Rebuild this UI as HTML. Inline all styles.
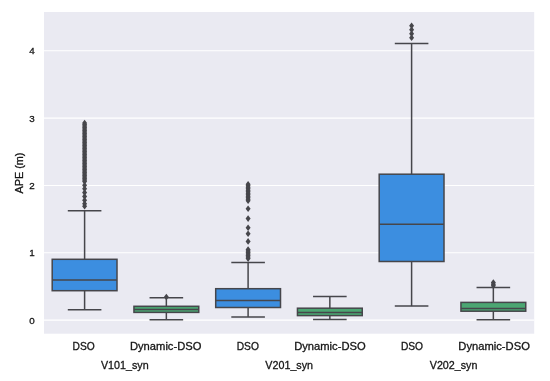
<!DOCTYPE html>
<html><head><meta charset="utf-8"><title>APE boxplot</title>
<style>html,body{margin:0;padding:0;background:#fff;overflow:hidden}svg{display:block}</style></head>
<body>
<svg width="550" height="381" viewBox="0 0 550 381">
<rect x="0" y="0" width="550" height="381" fill="#ffffff"/>
<rect x="44.0" y="12.0" width="490.2" height="321.7" fill="#eaeaf2"/>
<line x1="44.0" x2="534.2" y1="320.10" y2="320.10" stroke="#ffffff" stroke-width="1.05"/>
<line x1="44.0" x2="534.2" y1="252.77" y2="252.77" stroke="#ffffff" stroke-width="1.05"/>
<line x1="44.0" x2="534.2" y1="185.44" y2="185.44" stroke="#ffffff" stroke-width="1.05"/>
<line x1="44.0" x2="534.2" y1="118.11" y2="118.11" stroke="#ffffff" stroke-width="1.05"/>
<line x1="44.0" x2="534.2" y1="50.78" y2="50.78" stroke="#ffffff" stroke-width="1.05"/>
<g stroke="#46464b" stroke-width="1.5" fill="none">
<line x1="84.60" x2="84.60" y1="210.70" y2="259.30"/>
<line x1="84.60" x2="84.60" y1="290.70" y2="309.80"/>
<line x1="67.80" x2="101.40" y1="210.70" y2="210.70"/>
<line x1="67.80" x2="101.40" y1="309.80" y2="309.80"/>
<rect x="52.20" y="259.30" width="64.80" height="31.40" fill="#3c8ee0"/>
<line x1="52.20" x2="117.00" y1="279.90" y2="279.90"/>
</g>
<g fill="#46464b">
<path d="M84.60 119.70L87.10 123.00L84.60 126.30L82.10 123.00Z"/>
<path d="M84.60 121.20L87.10 124.50L84.60 127.80L82.10 124.50Z"/>
<path d="M84.60 122.70L87.10 126.00L84.60 129.30L82.10 126.00Z"/>
<path d="M84.60 124.20L87.10 127.50L84.60 130.80L82.10 127.50Z"/>
<path d="M84.60 125.70L87.10 129.00L84.60 132.30L82.10 129.00Z"/>
<path d="M84.60 127.20L87.10 130.50L84.60 133.80L82.10 130.50Z"/>
<path d="M84.60 128.70L87.10 132.00L84.60 135.30L82.10 132.00Z"/>
<path d="M84.60 130.20L87.10 133.50L84.60 136.80L82.10 133.50Z"/>
<path d="M84.60 131.70L87.10 135.00L84.60 138.30L82.10 135.00Z"/>
<path d="M84.60 133.20L87.10 136.50L84.60 139.80L82.10 136.50Z"/>
<path d="M84.60 134.70L87.10 138.00L84.60 141.30L82.10 138.00Z"/>
<path d="M84.60 136.20L87.10 139.50L84.60 142.80L82.10 139.50Z"/>
<path d="M84.60 137.70L87.10 141.00L84.60 144.30L82.10 141.00Z"/>
<path d="M84.60 139.20L87.10 142.50L84.60 145.80L82.10 142.50Z"/>
<path d="M84.60 140.70L87.10 144.00L84.60 147.30L82.10 144.00Z"/>
<path d="M84.60 142.20L87.10 145.50L84.60 148.80L82.10 145.50Z"/>
<path d="M84.60 143.70L87.10 147.00L84.60 150.30L82.10 147.00Z"/>
<path d="M84.60 145.20L87.10 148.50L84.60 151.80L82.10 148.50Z"/>
<path d="M84.60 146.70L87.10 150.00L84.60 153.30L82.10 150.00Z"/>
<path d="M84.60 148.20L87.10 151.50L84.60 154.80L82.10 151.50Z"/>
<path d="M84.60 149.70L87.10 153.00L84.60 156.30L82.10 153.00Z"/>
<path d="M84.60 151.20L87.10 154.50L84.60 157.80L82.10 154.50Z"/>
<path d="M84.60 152.70L87.10 156.00L84.60 159.30L82.10 156.00Z"/>
<path d="M84.60 154.20L87.10 157.50L84.60 160.80L82.10 157.50Z"/>
<path d="M84.60 155.70L87.10 159.00L84.60 162.30L82.10 159.00Z"/>
<path d="M84.60 157.20L87.10 160.50L84.60 163.80L82.10 160.50Z"/>
<path d="M84.60 158.70L87.10 162.00L84.60 165.30L82.10 162.00Z"/>
<path d="M84.60 160.20L87.10 163.50L84.60 166.80L82.10 163.50Z"/>
<path d="M84.60 161.70L87.10 165.00L84.60 168.30L82.10 165.00Z"/>
<path d="M84.60 163.20L87.10 166.50L84.60 169.80L82.10 166.50Z"/>
<path d="M84.60 164.70L87.10 168.00L84.60 171.30L82.10 168.00Z"/>
<path d="M84.60 166.20L87.10 169.50L84.60 172.80L82.10 169.50Z"/>
<path d="M84.60 167.70L87.10 171.00L84.60 174.30L82.10 171.00Z"/>
<path d="M84.60 169.20L87.10 172.50L84.60 175.80L82.10 172.50Z"/>
<path d="M84.60 170.70L87.10 174.00L84.60 177.30L82.10 174.00Z"/>
<path d="M84.60 172.20L87.10 175.50L84.60 178.80L82.10 175.50Z"/>
<path d="M84.60 173.70L87.10 177.00L84.60 180.30L82.10 177.00Z"/>
<path d="M84.60 175.20L87.10 178.50L84.60 181.80L82.10 178.50Z"/>
<path d="M84.60 176.70L87.10 180.00L84.60 183.30L82.10 180.00Z"/>
<path d="M84.60 178.20L87.10 181.50L84.60 184.80L82.10 181.50Z"/>
<path d="M84.60 181.90L87.10 185.20L84.60 188.50L82.10 185.20Z"/>
<path d="M84.60 185.50L87.10 188.80L84.60 192.10L82.10 188.80Z"/>
<path d="M84.60 189.30L87.10 192.60L84.60 195.90L82.10 192.60Z"/>
<path d="M84.60 193.10L87.10 196.40L84.60 199.70L82.10 196.40Z"/>
<path d="M84.60 197.00L87.10 200.30L84.60 203.60L82.10 200.30Z"/>
<path d="M84.60 200.50L87.10 203.80L84.60 207.10L82.10 203.80Z"/>
<path d="M84.60 202.90L87.10 206.20L84.60 209.50L82.10 206.20Z"/>
</g>
<g stroke="#46464b" stroke-width="1.5" fill="none">
<line x1="166.35" x2="166.35" y1="297.70" y2="306.30"/>
<line x1="166.35" x2="166.35" y1="312.40" y2="319.80"/>
<line x1="149.55" x2="183.15" y1="297.70" y2="297.70"/>
<line x1="149.55" x2="183.15" y1="319.80" y2="319.80"/>
<rect x="133.95" y="306.30" width="64.80" height="6.10" fill="#4ba672"/>
<line x1="133.95" x2="198.75" y1="309.40" y2="309.40"/>
</g>
<g fill="#46464b">
<path d="M166.35 293.70L168.85 297.00L166.35 300.30L163.85 297.00Z"/>
</g>
<g stroke="#46464b" stroke-width="1.5" fill="none">
<line x1="248.10" x2="248.10" y1="262.60" y2="288.70"/>
<line x1="248.10" x2="248.10" y1="307.50" y2="316.90"/>
<line x1="231.30" x2="264.90" y1="262.60" y2="262.60"/>
<line x1="231.30" x2="264.90" y1="316.90" y2="316.90"/>
<rect x="215.70" y="288.70" width="64.80" height="18.80" fill="#3c8ee0"/>
<line x1="215.70" x2="280.50" y1="300.60" y2="300.60"/>
</g>
<g fill="#46464b">
<path d="M248.10 180.90L250.60 184.20L248.10 187.50L245.60 184.20Z"/>
<path d="M248.10 182.40L250.60 185.70L248.10 189.00L245.60 185.70Z"/>
<path d="M248.10 183.90L250.60 187.20L248.10 190.50L245.60 187.20Z"/>
<path d="M248.10 185.40L250.60 188.70L248.10 192.00L245.60 188.70Z"/>
<path d="M248.10 186.90L250.60 190.20L248.10 193.50L245.60 190.20Z"/>
<path d="M248.10 188.40L250.60 191.70L248.10 195.00L245.60 191.70Z"/>
<path d="M248.10 189.90L250.60 193.20L248.10 196.50L245.60 193.20Z"/>
<path d="M248.10 191.40L250.60 194.70L248.10 198.00L245.60 194.70Z"/>
<path d="M248.10 192.90L250.60 196.20L248.10 199.50L245.60 196.20Z"/>
<path d="M248.10 194.40L250.60 197.70L248.10 201.00L245.60 197.70Z"/>
<path d="M248.10 195.90L250.60 199.20L248.10 202.50L245.60 199.20Z"/>
<path d="M248.10 197.40L250.60 200.70L248.10 204.00L245.60 200.70Z"/>
<path d="M248.10 205.50L250.60 208.80L248.10 212.10L245.60 208.80Z"/>
<path d="M248.10 215.30L250.60 218.60L248.10 221.90L245.60 218.60Z"/>
<path d="M248.10 224.40L250.60 227.70L248.10 231.00L245.60 227.70Z"/>
<path d="M248.10 230.50L250.60 233.80L248.10 237.10L245.60 233.80Z"/>
<path d="M248.10 238.10L250.60 241.40L248.10 244.70L245.60 241.40Z"/>
<path d="M248.10 246.30L250.60 249.60L248.10 252.90L245.60 249.60Z"/>
<path d="M248.10 247.80L250.60 251.10L248.10 254.40L245.60 251.10Z"/>
<path d="M248.10 249.30L250.60 252.60L248.10 255.90L245.60 252.60Z"/>
<path d="M248.10 250.80L250.60 254.10L248.10 257.40L245.60 254.10Z"/>
<path d="M248.10 252.30L250.60 255.60L248.10 258.90L245.60 255.60Z"/>
<path d="M248.10 253.80L250.60 257.10L248.10 260.40L245.60 257.10Z"/>
<path d="M248.10 255.30L250.60 258.60L248.10 261.90L245.60 258.60Z"/>
</g>
<g stroke="#46464b" stroke-width="1.5" fill="none">
<line x1="329.85" x2="329.85" y1="296.60" y2="308.20"/>
<line x1="329.85" x2="329.85" y1="315.60" y2="319.50"/>
<line x1="313.05" x2="346.65" y1="296.60" y2="296.60"/>
<line x1="313.05" x2="346.65" y1="319.50" y2="319.50"/>
<rect x="297.45" y="308.20" width="64.80" height="7.40" fill="#4ba672"/>
<line x1="297.45" x2="362.25" y1="312.60" y2="312.60"/>
</g>
<g stroke="#46464b" stroke-width="1.5" fill="none">
<line x1="411.60" x2="411.60" y1="43.40" y2="174.20"/>
<line x1="411.60" x2="411.60" y1="261.50" y2="306.10"/>
<line x1="394.80" x2="428.40" y1="43.40" y2="43.40"/>
<line x1="394.80" x2="428.40" y1="306.10" y2="306.10"/>
<rect x="379.20" y="174.20" width="64.80" height="87.30" fill="#3c8ee0"/>
<line x1="379.20" x2="444.00" y1="224.20" y2="224.20"/>
</g>
<g fill="#46464b">
<path d="M411.60 22.50L414.10 25.80L411.60 29.10L409.10 25.80Z"/>
<path d="M411.60 26.50L414.10 29.80L411.60 33.10L409.10 29.80Z"/>
<path d="M411.60 30.50L414.10 33.80L411.60 37.10L409.10 33.80Z"/>
<path d="M411.60 34.50L414.10 37.80L411.60 41.10L409.10 37.80Z"/>
</g>
<g stroke="#46464b" stroke-width="1.5" fill="none">
<line x1="493.35" x2="493.35" y1="287.60" y2="302.40"/>
<line x1="493.35" x2="493.35" y1="311.20" y2="319.80"/>
<line x1="476.55" x2="510.15" y1="287.60" y2="287.60"/>
<line x1="476.55" x2="510.15" y1="319.80" y2="319.80"/>
<rect x="460.95" y="302.40" width="64.80" height="8.80" fill="#4ba672"/>
<line x1="460.95" x2="525.75" y1="308.40" y2="308.40"/>
</g>
<g fill="#46464b">
<path d="M493.35 279.30L495.85 282.60L493.35 285.90L490.85 282.60Z"/>
<path d="M493.35 280.90L495.85 284.20L493.35 287.50L490.85 284.20Z"/>
<path d="M493.35 282.50L495.85 285.80L493.35 289.10L490.85 285.80Z"/>
</g>
<text x="34.8" y="323.70" text-anchor="end" font-size="9.8" fill="#151515" font-family="'Liberation Sans', sans-serif" stroke="#151515" stroke-width="0.3">0</text>
<text x="34.8" y="256.37" text-anchor="end" font-size="9.8" fill="#151515" font-family="'Liberation Sans', sans-serif" stroke="#151515" stroke-width="0.3">1</text>
<text x="34.8" y="189.04" text-anchor="end" font-size="9.8" fill="#151515" font-family="'Liberation Sans', sans-serif" stroke="#151515" stroke-width="0.3">2</text>
<text x="34.8" y="121.71" text-anchor="end" font-size="9.8" fill="#151515" font-family="'Liberation Sans', sans-serif" stroke="#151515" stroke-width="0.3">3</text>
<text x="34.8" y="54.38" text-anchor="end" font-size="9.8" fill="#151515" font-family="'Liberation Sans', sans-serif" stroke="#151515" stroke-width="0.3">4</text>
<text x="83.60" y="350" text-anchor="middle" font-size="10.8" fill="#151515" font-family="'Liberation Sans', sans-serif" stroke="#151515" stroke-width="0.3" textLength="22.2" lengthAdjust="spacingAndGlyphs">DSO</text>
<text x="165.70" y="350" text-anchor="middle" font-size="10.8" fill="#151515" font-family="'Liberation Sans', sans-serif" stroke="#151515" stroke-width="0.3" textLength="71.5" lengthAdjust="spacingAndGlyphs">Dynamic-DSO</text>
<text x="247.80" y="350" text-anchor="middle" font-size="10.8" fill="#151515" font-family="'Liberation Sans', sans-serif" stroke="#151515" stroke-width="0.3" textLength="22.2" lengthAdjust="spacingAndGlyphs">DSO</text>
<text x="329.90" y="350" text-anchor="middle" font-size="10.8" fill="#151515" font-family="'Liberation Sans', sans-serif" stroke="#151515" stroke-width="0.3" textLength="71.5" lengthAdjust="spacingAndGlyphs">Dynamic-DSO</text>
<text x="412.00" y="350" text-anchor="middle" font-size="10.8" fill="#151515" font-family="'Liberation Sans', sans-serif" stroke="#151515" stroke-width="0.3" textLength="22.2" lengthAdjust="spacingAndGlyphs">DSO</text>
<text x="494.10" y="350" text-anchor="middle" font-size="10.8" fill="#151515" font-family="'Liberation Sans', sans-serif" stroke="#151515" stroke-width="0.3" textLength="71.5" lengthAdjust="spacingAndGlyphs">Dynamic-DSO</text>
<text x="124.80" y="369.2" text-anchor="middle" font-size="11" fill="#151515" font-family="'Liberation Sans', sans-serif" stroke="#151515" stroke-width="0.3" textLength="47.7" lengthAdjust="spacingAndGlyphs">V101_syn</text>
<text x="289.20" y="369.2" text-anchor="middle" font-size="11" fill="#151515" font-family="'Liberation Sans', sans-serif" stroke="#151515" stroke-width="0.3" textLength="47.7" lengthAdjust="spacingAndGlyphs">V201_syn</text>
<text x="453.60" y="369.2" text-anchor="middle" font-size="11" fill="#151515" font-family="'Liberation Sans', sans-serif" stroke="#151515" stroke-width="0.3" textLength="47.7" lengthAdjust="spacingAndGlyphs">V202_syn</text>
<text transform="translate(23.1 173) rotate(-90)" text-anchor="middle" font-size="10.8" fill="#151515" font-family="'Liberation Sans', sans-serif" stroke="#151515" stroke-width="0.3" textLength="40.9" lengthAdjust="spacingAndGlyphs">APE (m)</text>
</svg>
</body></html>
